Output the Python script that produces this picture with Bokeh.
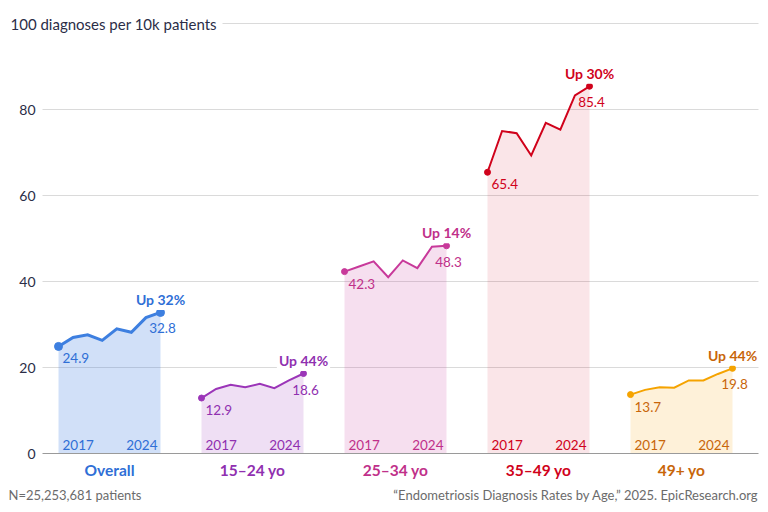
from bokeh.plotting import figure
from bokeh.models import Range1d
from bokeh.core.properties import value
from bokeh.embed import file_html
from bokeh.resources import INLINE

# Diagnoses per 10k patients, 2017-2024
groups = ["Overall", "15–24 yo", "25–34 yo", "35–49 yo", "49+ yo"]
years = [2017, 2018, 2019, 2020, 2021, 2022, 2023, 2024]
overall = [24.9, 27.0, 27.6, 26.3, 29.0, 28.2, 31.6, 32.8]
age_15_24 = [12.9, 15.0, 16.0, 15.4, 16.2, 15.2, 17.0, 18.6]
age_25_34 = [42.3, 43.5, 44.7, 41.0, 44.9, 43.1, 48.1, 48.3]
age_35_49 = [65.4, 75.0, 74.5, 69.3, 76.9, 75.3, 83.3, 85.4]
age_49_plus = [13.7, 14.8, 15.4, 15.3, 17.0, 17.0, 18.5, 19.8]
up_pct = [32, 44, 14, 30, 44]
y_ticks = [0, 20, 40, 60, 80, 100]

series = [overall, age_15_24, age_25_34, age_35_49, age_49_plus]
line_colors = ["#3d7fe0", "#9b35b8", "#c8399a", "#d0021b", "#f5a300"]
text_colors = ["#2f6fd6", "#9030b0", "#c0308a", "#d0021b", "#c8660a"]
band_alpha = [0.24, 0.155, 0.16, 0.1, 0.15]
line_widths = [3, 2, 2, 2, 2]
dot_sizes = [8, 6, 6, 6, 6]

FONT = value("Lato")
PX = 102 / 7          # pixels per year step
GROUP_STEP = 143 / PX  # distance between group starts, in year steps
PX_Y = 4.3            # pixels per unit on y


def px_x(px):
    return (px - 58) / PX


def px_y(py):
    return (453 - py) / PX_Y


p = figure(width=768, height=512, min_border=0, toolbar_location=None,
           output_backend="svg",
           x_range=Range1d(px_x(0), px_x(768)),
           y_range=Range1d(px_y(512), px_y(0)))
p.axis.visible = False
p.grid.visible = False
p.outline_line_color = None
p.background_fill_color = "white"
p.border_fill_color = "white"

# horizontal gridlines
grid_ticks = [t for t in y_ticks if 0 < t < 100]
p.segment(x0=[px_x(42)] * len(grid_ticks), x1=[px_x(758)] * len(grid_ticks),
          y0=grid_ticks, y1=grid_ticks, line_color="#dadada", line_width=1)
p.segment(x0=[px_x(222)], x1=[px_x(758)], y0=[100], y1=[100],
          line_color="#dadada", line_width=1)

# y tick labels
tick_labels = [t for t in y_ticks if t < 100]
p.text(x=[px_x(35)] * len(tick_labels), y=tick_labels,
       text=[str(t) for t in tick_labels], text_font=FONT, text_font_size="14px",
       text_color="#2b2d47", text_align="right", text_baseline="middle")
p.text(x=[px_x(10)], y=[100], text=["100 diagnoses per 10k patients"],
       text_font=FONT, text_font_size="15px", text_color="#2b2d47",
       text_align="left", text_baseline="middle")

for g, (vals, lc, tc, a, lw, ds) in enumerate(zip(series, line_colors, text_colors,
                                                  band_alpha, line_widths, dot_sizes)):
    xs = [g * GROUP_STEP + (yr - years[0]) for yr in years]
    p.varea(x=xs, y1=[0] * len(xs), y2=vals, fill_color=lc, fill_alpha=a)
    p.line(xs, vals, line_color=lc, line_width=lw, line_join="miter")
    p.scatter([xs[0], xs[-1]], [vals[0], vals[-1]], size=ds, fill_color=lc,
              line_color=lc)

    # start / end values
    p.text(x=[xs[0]], y=[vals[0]], text=[f"{vals[0]:.1f}"], text_font=FONT,
           text_font_size="13.5px", text_color=tc, text_align="left",
           text_baseline="middle", x_offset=4, y_offset=12)
    p.text(x=[xs[-1]], y=[vals[-1]], text=[f"{vals[-1]:.1f}"], text_font=FONT,
           text_font_size="13.5px", text_color=tc, text_align="center",
           text_baseline="middle", x_offset=2, y_offset=16)
    # change label
    p.text(x=[xs[-1]], y=[vals[-1]], text=[f"Up {up_pct[g]}%"], text_font=FONT,
           text_font_size="14px", text_font_style="bold", text_color=tc,
           text_align="center", text_baseline="middle", y_offset=-13,
           background_fill_color="white", padding=2)

    # year labels inside band
    p.text(x=[xs[0]], y=[0], text=[str(years[0])], text_font=FONT,
           text_font_size="13.5px", text_color=tc, text_align="left",
           text_baseline="middle", x_offset=4, y_offset=-9)
    p.text(x=[xs[-1]], y=[0], text=[str(years[-1])], text_font=FONT,
           text_font_size="13.5px", text_color=tc, text_align="right",
           text_baseline="middle", x_offset=-3, y_offset=-9)

    # group name
    p.text(x=[(xs[0] + xs[-1]) / 2], y=[0], text=[groups[g]], text_font=FONT,
           text_font_size="15.5px", text_font_style="bold", text_color=tc,
           text_align="center", text_baseline="middle", y_offset=16)

# baseline
p.segment(x0=[px_x(42)], x1=[px_x(758)], y0=[0], y1=[0],
          line_color="#9a9a9a", line_width=1)

# footer
p.text(x=[px_x(8)], y=[0], text=["N=25,253,681 patients"], text_font=FONT,
       text_font_size="13px", text_color="#6b6b6b", text_align="left",
       text_baseline="middle", y_offset=41)
p.text(x=[px_x(758)], y=[0],
       text=["“Endometriosis Diagnosis Rates by Age,” 2025. EpicResearch.org"],
       text_font=FONT, text_font_size="13px", text_color="#6b6b6b",
       text_align="right", text_baseline="middle", y_offset=41)

open("out.html", "w").write(file_html(p, INLINE))
